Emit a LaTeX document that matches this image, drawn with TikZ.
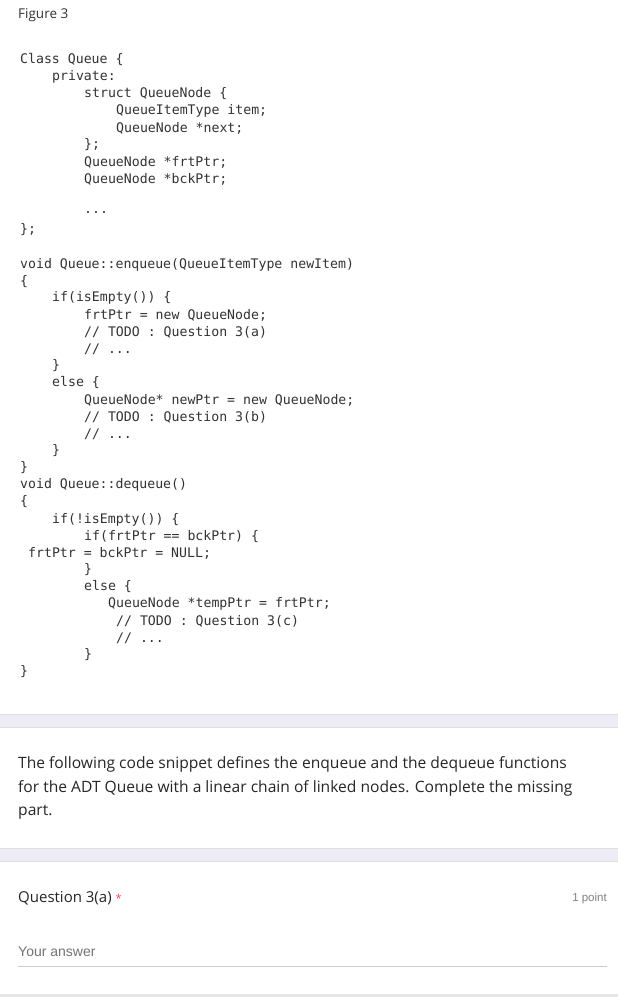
\documentclass[tikz,border=0pt]{standalone}
\usepackage{fontspec}
\setmainfont{Open Sans}
\newfontfamily\codefont{DejaVu Sans Mono}
\newfontfamily\robo{Liberation Sans}
\definecolor{bandc}{RGB}{236,235,246}
\begin{document}
\begin{tikzpicture}[x=1pt,y=-1pt,
  code/.style={anchor=west,inner sep=0pt,text=black!80,font=\codefont\fontsize{13.2}{14}\selectfont},
  para/.style={anchor=west,inner sep=0pt,text=black!85,font=\fontsize{15.6}{17}\selectfont},
  band/.style={fill=bandc,draw=black!12,line width=0.8pt}]
\useasboundingbox (0,0) rectangle (618,997);
\fill[white] (0,0) rectangle (618,997);
\node[anchor=west,inner sep=0pt,text=black!80,font=\fontsize{13.5}{15}\selectfont] (fig) at (18,15) {Figure 3};
\foreach \x/\y/\t [count=\i] in {
20/60/{Class Queue \{},
52/77/{private:},
84/94/{struct QueueNode \{},
116/111/{QueueItemType item;},
116/128/{QueueNode *next;},
84/145/{\};},
84/162/{QueueNode *frtPtr;},
84/179/{QueueNode *bckPtr;},
84/213/{...},
20/230/{\};},
20/265/{void Queue::enqueue(QueueItemType newItem)},
20/282/{\{},
52/298/{if(isEmpty()) \{},
84/315/{frtPtr = new QueueNode;},
84/332/{// TODO : Question 3(a)},
84/349/{// ...},
52/366/{\}},
52/383/{else \{},
84/400/{QueueNode* newPtr = new QueueNode;},
84/417/{// TODO : Question 3(b)},
84/434/{// ...},
52/451/{\}},
20/468/{\}},
20/485/{void Queue::dequeue()},
20/502/{\{},
52/520/{if(!isEmpty()) \{},
84/537/{if(frtPtr == bckPtr) \{},
28/553/{frtPtr = bckPtr = NULL;},
84/570/{\}},
84/587/{else \{},
108/604/{QueueNode *tempPtr = frtPtr;},
116/621/{// TODO : Question 3(c)},
116/638/{// ...},
84/655/{\}},
20/672/{\}}}
  \node[code] (c\i) at (\x,\y) {\t};
\draw[band] (-1,714) rectangle (619,727);
\node[para] (p1) at (18,764) {The following code snippet defines the enqueue and the dequeue functions};
\node[para] (p2) at (18,788) {for the ADT Queue with a linear chain of linked nodes. Complete the missing};
\node[para] (p3) at (18,812) {part.};
\draw[band] (-1,848) rectangle (619,861);
\node[anchor=west,inner sep=0pt,text=black!85,font=\fontsize{15}{17}\selectfont] (q) at (18,898) {Question 3(a) \textcolor{red!70}{\fontsize{11}{11}\selectfont*}};
\node[anchor=east,inner sep=0pt,text=black!50,font=\robo\fontsize{11.5}{13}\selectfont] (pt) at (607,899) {1 point};
\node[anchor=west,inner sep=0pt,text=black!55,font=\robo\fontsize{14}{15}\selectfont] (ans) at (18,952) {Your answer};
\draw[black!20,line width=0.8pt] (18,966) -- (607,966);
\fill[black!10] (0,994) rectangle (618,997);
\end{tikzpicture}
\end{document}
